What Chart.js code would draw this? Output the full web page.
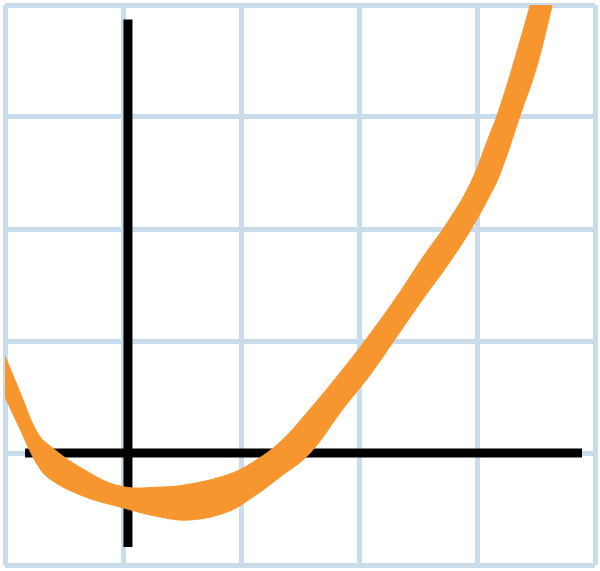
<!DOCTYPE html>
<html>
<head>
<meta charset="utf-8">
<script src="https://cdn.jsdelivr.net/npm/chart.js@4/dist/chart.umd.min.js"></script>
<style>
html, body { margin: 0; padding: 0; background: #fff; }
#wrap { width: 600px; height: 571px; }
</style>
</head>
<body>
<div id="wrap"><canvas id="graph"></canvas></div>
<script>
// orange band: upper and lower edge at the same x
var bandX     = [-1.0, -0.873, -0.729, -0.619, -0.339, -0.025, 0.314, 0.568, 0.881, 1.076, 1.331, 1.585, 1.864, 2.093, 2.347, 2.542, 2.746, 2.941, 3.093, 3.195, 3.364, 3.508, 3.636];
var bandUpper = [0.866, 0.545, 0.188, 0.063, -0.143, -0.295, -0.304, -0.277, -0.196, -0.098, 0.098, 0.393, 0.75, 1.063, 1.438, 1.750, 2.054, 2.402, 2.804, 3.089, 3.679, 4.214, 4.679];
var bandLower = [0.5, 0.214, -0.098, -0.232, -0.384, -0.482, -0.571, -0.598, -0.527, -0.411, -0.214, 0.0, 0.393, 0.696, 1.080, 1.375, 1.670, 1.982, 2.268, 2.491, 3.009, 3.455, 3.991];

// black hand drawn axes
var xAxisFrom = -0.83, xAxisTo = 3.89;
var yAxisAt = 0.042, yAxisFrom = -0.84, yAxisTo = 3.87;

// grid range
var gridMin = -1, gridMax = 4, gridStep = 1;

var orange = 'rgb(247, 150, 47)';
var gridBlue = 'rgb(201, 220, 235)';

function toPoints(xs, ys){
	var pts = [];
	for(var i = 0; i < xs.length; i++){
		pts.push({x: xs[i], y: ys[i]});
	}
	return pts;
}

var config = {};
config.type = 'line';
config.data = {};
config.data.datasets = [];
config.data.datasets[0] = {
	data: toPoints(bandX, bandUpper),
	borderColor: orange,
	borderWidth: 1,
	pointRadius: 0,
	tension: 0.4,
	fill: false
};
config.data.datasets[1] = {
	data: toPoints(bandX, bandLower),
	borderColor: orange,
	backgroundColor: orange,
	borderWidth: 1,
	pointRadius: 0,
	tension: 0.4,
	fill: '-1'
};
config.data.datasets[2] = {
	data: [{x: xAxisFrom, y: 0}, {x: xAxisTo, y: 0}],
	borderColor: '#000',
	borderWidth: 9,
	borderCapStyle: 'butt',
	pointRadius: 0,
	fill: false
};
config.data.datasets[3] = {
	data: [{x: yAxisAt, y: yAxisTo}, {x: yAxisAt, y: yAxisFrom}],
	borderColor: '#000',
	borderWidth: 9,
	borderCapStyle: 'butt',
	pointRadius: 0,
	fill: false
};

function gridScale(){
	return {
		type: 'linear',
		min: gridMin,
		max: gridMax,
		ticks: { display: false, stepSize: gridStep },
		grid: { color: gridBlue, lineWidth: 5, drawTicks: false },
		border: { display: false }
	};
}

config.options = {
	responsive: true,
	maintainAspectRatio: false,
	animation: false,
	layout: { padding: { left: 5, right: 5, top: 5, bottom: 6 } },
	plugins: {
		legend: { display: false },
		tooltip: { enabled: false }
	},
	scales: {
		x: gridScale(),
		y: gridScale()
	}
};

window.myGraph = new Chart(document.getElementById('graph'), config);
</script>
</body>
</html>
